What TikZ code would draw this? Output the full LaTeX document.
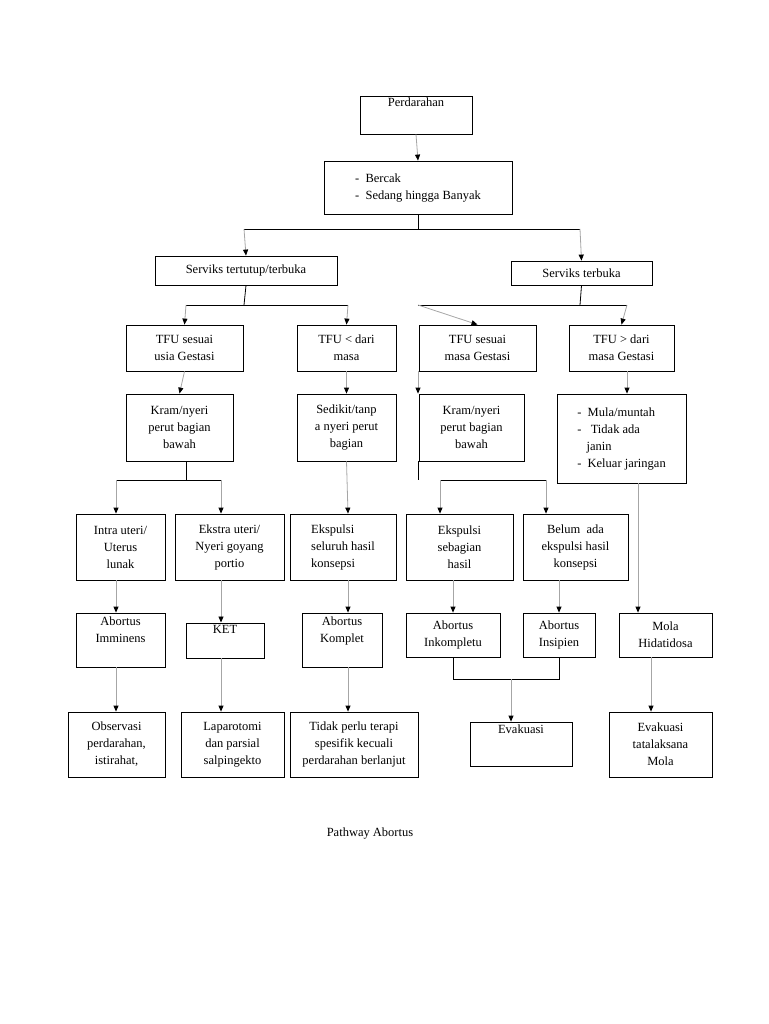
\documentclass[tikz,border=0pt]{standalone}
\usepackage{fontspec}
\setmainfont{Liberation Serif}
\usetikzlibrary{arrows.meta}
\newcommand{\bx}[6]{\node[box,minimum width={#4-#2},minimum height={#5-#3}] (#1) at ({(#2+#4)/2},{(#3+#5)/2}) {#6};}
\begin{document}
\begin{tikzpicture}[x=1pt,y=-1pt,
  box/.style={draw,thick,rectangle,inner sep=2pt,align=center,font=\fontsize{12.5}{17}\selectfont},
  ln/.style={black,thick},
  ar/.style={draw=black!35,thick,-{Triangle[black,length=6pt,width=5pt]}}]
\useasboundingbox (0,0) rectangle (768,1024);
\bx{p}{360}{96}{472}{134}{Perdarahan\\[8pt]}
\bx{b}{324}{161}{512}{214}{\begin{tabular}{@{}l@{}}-\ \ Bercak\\-\ \ Sedang hingga Banyak\end{tabular}}
\bx{s1}{155}{256}{337}{285}{Serviks tertutup/terbuka}
\bx{s2}{511}{261}{652}{285}{Serviks terbuka}
\bx{t1}{126}{325}{243}{371}{TFU sesuai\\usia Gestasi}
\bx{t2}{297}{325}{396}{371}{TFU < dari\\masa}
\bx{t3}{419}{325}{536}{371}{TFU sesuai\\masa Gestasi}
\bx{t4}{569}{325}{674}{371}{TFU > dari\\masa Gestasi}
\bx{k1}{126}{394}{233}{461}{Kram/nyeri\\perut bagian\\bawah}
\bx{k2}{297}{394}{396}{461}{Sedikit/tanp\\a nyeri perut\\bagian}
\bx{k3}{419}{394}{524}{461}{Kram/nyeri\\perut bagian\\bawah}
\bx{k4}{557}{394}{686}{483}{\begin{tabular}{@{}l@{}}-\ \ Mula/muntah\\-\ \ \ Tidak ada\\\ \ \ janin\\-\ \ Keluar jaringan\end{tabular}}
\bx{e1}{76}{514}{165}{580}{Intra uteri/\\Uterus\\lunak}
\bx{e2}{175}{514}{284}{580}{Ekstra uteri/\\Nyeri goyang\\portio}
\bx{e3}{290}{514}{396}{580}{\begin{tabular}{@{}l@{}}Ekspulsi\\seluruh hasil\\konsepsi\end{tabular}}
\bx{e4}{406}{514}{513}{580}{Ekspulsi\\sebagian\\hasil}
\bx{e5}{523}{514}{628}{580}{Belum\ \ ada\\ekspulsi hasil\\konsepsi}
\bx{a1}{76}{613}{165}{667}{Abortus\\Imminens\\[4pt]}
\bx{a2}{186}{624}{264}{657}{KET\\[6pt]}
\bx{a3}{302}{613}{382}{667}{Abortus\\Komplet\\[4pt]}
\bx{a4}{406}{613}{500}{657}{Abortus\\Inkompletu}
\bx{a5}{523}{613}{595}{657}{Abortus\\Insipien}
\bx{a6}{619}{613}{712}{657}{Mola\\Hidatidosa}
\bx{o1}{68}{712}{165}{777}{Observasi\\perdarahan,\\istirahat,}
\bx{o2}{181}{712}{284}{777}{Laparotomi\\dan parsial\\salpingekto}
\bx{o3}{290}{712}{418}{777}{Tidak perlu terapi\\spesifik kecuali\\perdarahan berlanjut}
\bx{o4}{470}{722}{572}{766}{Evakuasi\\[12pt]}
\bx{o5}{609}{712}{712}{777}{Evakuasi\\tatalaksana\\Mola}
\node[font=\fontsize{12.5}{15}\selectfont] (cap) at (370,834) {Pathway Abortus};
% connectors
\draw[ar] (p.south) -- (b.north);
\draw[ln] (b.south) -- (418,229) coordinate (j1);
\draw[ln] (244,229) -- (580,229);
\draw[ar] (244,229) -- (s1.north);
\draw[ar] (580,229) -- (s2.north);
\draw[ln] (s1.south) -- (244,305) coordinate (j2);
\draw[ln] (186,305) -- (348,305);
\draw[ar] (186,305) -- (t1.north);
\draw[ar] (348,305) -- (t2.north);
\draw[ln] (s2.south) -- (580,305) coordinate (j3);
\draw[ln] (418,305) -- (627,305);
\draw[ar] (418,305) -- (t3.north);
\draw[ar] (627,305) -- (t4.north);
\draw[ar] (t1.south) -- (k1.north);
\draw[ar] (t2.south) -- (k2.north);
\draw[ar] (t3.south-|418,0) -- (k3.north-|418,0);
\draw[ar] (t4.south-|627,0) -- (k4.north-|627,0);
\draw[ln] (k1.south-|186,0) -- (186,480) coordinate (j4);
\draw[ln] (116,480) -- (221,480);
\draw[ar] (116,480) -- (e1.north-|116,0);
\draw[ar] (221,480) -- (e2.north-|221,0);
\draw[ar] (k2.south) -- (e3.north-|348,0);
\draw[ln] (k3.south-|418,0) -- (418,480) coordinate (j5);
\draw[ln] (440,480) -- (546,480);
\draw[ar] (440,480) -- (e4.north-|440,0);
\draw[ar] (546,480) -- (e5.north-|546,0);
\draw[ar] (k4.south-|638,0) -- (a6.north-|638,0);
\draw[ar] (e1.south-|116,0) -- (a1.north-|116,0);
\draw[ar] (e2.south-|221,0) -- (a2.north-|221,0);
\draw[ar] (e3.south-|348,0) -- (a3.north-|348,0);
\draw[ar] (e4.south-|453,0) -- (a4.north-|453,0);
\draw[ar] (e5.south-|559,0) -- (a5.north-|559,0);
\draw[ar] (a1.south-|116,0) -- (o1.north-|116,0);
\draw[ar] (a2.south-|221,0) -- (o2.north-|221,0);
\draw[ar] (a3.south-|348,0) -- (o3.north-|348,0);
\draw[ln] (a4.south-|453,0) -- (453,679) -- (559,679) -- (a5.south-|559,0);
\draw[ar] (511,679) -- (o4.north-|511,0);
\draw[ar] (a6.south-|651,0) -- (o5.north-|651,0);
\end{tikzpicture}
\end{document}
